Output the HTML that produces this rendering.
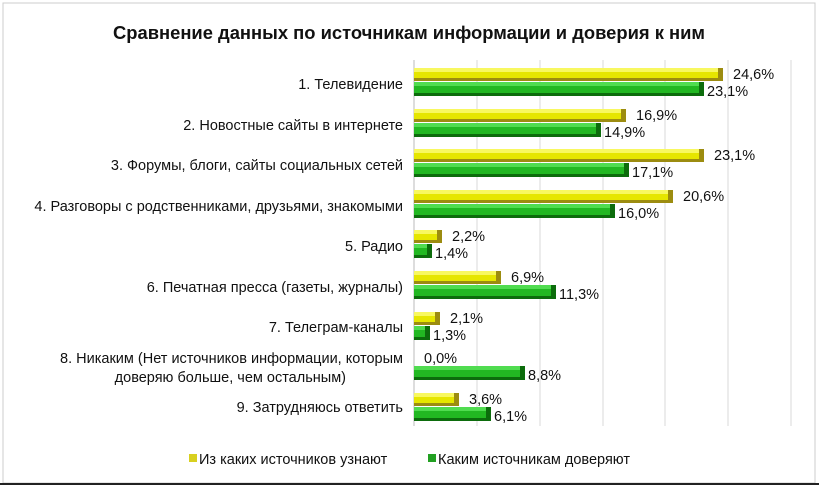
<!DOCTYPE html>
<html><head><meta charset="utf-8"><style>
body{margin:0;background:#fff;width:819px;height:489px;overflow:hidden}
svg text{font-family:"Liberation Sans",sans-serif}
</style></head><body>
<svg width="819" height="489" xmlns="http://www.w3.org/2000/svg">
<rect x="0" y="0" width="819" height="489" fill="#fff"/>
<rect x="3" y="3" width="812" height="480" fill="none" stroke="#ccc"/>
<line x1="0" y1="484" x2="819" y2="484" stroke="#222" stroke-width="2"/>
<text x="409" y="39" font-size="18" font-weight="bold" text-anchor="middle" fill="#111" textLength="592" lengthAdjust="spacingAndGlyphs">Сравнение данных по источникам информации и доверия к ним</text>
<g stroke="#d9d9d9" stroke-width="1">
<line x1="477" y1="60" x2="477" y2="426"/><line x1="540" y1="60" x2="540" y2="426"/>
<line x1="603" y1="60" x2="603" y2="426"/><line x1="665" y1="60" x2="665" y2="426"/>
<line x1="728" y1="60" x2="728" y2="426"/><line x1="791" y1="60" x2="791" y2="426"/>
</g>
<line x1="414" y1="60" x2="414" y2="426" stroke="#bbb"/>

<g>
<rect x="414" y="68" width="309" height="13" fill="#e6e600"/><rect x="414" y="68" width="309" height="4" fill="#f8f860"/><rect x="414" y="78" width="309" height="3" fill="#9c8c10"/><rect x="718" y="68" width="5" height="13" fill="#9c8c10"/>
<rect x="414" y="109" width="212" height="13" fill="#e6e600"/><rect x="414" y="109" width="212" height="4" fill="#f8f860"/><rect x="414" y="119" width="212" height="3" fill="#9c8c10"/><rect x="621" y="109" width="5" height="13" fill="#9c8c10"/>
<rect x="414" y="149" width="290" height="13" fill="#e6e600"/><rect x="414" y="149" width="290" height="4" fill="#f8f860"/><rect x="414" y="159" width="290" height="3" fill="#9c8c10"/><rect x="699" y="149" width="5" height="13" fill="#9c8c10"/>
<rect x="414" y="190" width="259" height="13" fill="#e6e600"/><rect x="414" y="190" width="259" height="4" fill="#f8f860"/><rect x="414" y="200" width="259" height="3" fill="#9c8c10"/><rect x="668" y="190" width="5" height="13" fill="#9c8c10"/>
<rect x="414" y="230" width="28" height="13" fill="#e6e600"/><rect x="414" y="230" width="28" height="4" fill="#f8f860"/><rect x="414" y="240" width="28" height="3" fill="#9c8c10"/><rect x="437" y="230" width="5" height="13" fill="#9c8c10"/>
<rect x="414" y="271" width="87" height="13" fill="#e6e600"/><rect x="414" y="271" width="87" height="4" fill="#f8f860"/><rect x="414" y="281" width="87" height="3" fill="#9c8c10"/><rect x="496" y="271" width="5" height="13" fill="#9c8c10"/>
<rect x="414" y="312" width="26" height="13" fill="#e6e600"/><rect x="414" y="312" width="26" height="4" fill="#f8f860"/><rect x="414" y="322" width="26" height="3" fill="#9c8c10"/><rect x="435" y="312" width="5" height="13" fill="#9c8c10"/>
<rect x="414" y="393" width="45" height="13" fill="#e6e600"/><rect x="414" y="393" width="45" height="4" fill="#f8f860"/><rect x="414" y="403" width="45" height="3" fill="#9c8c10"/><rect x="454" y="393" width="5" height="13" fill="#9c8c10"/>
</g>
<g>
<rect x="414" y="82" width="290" height="14" fill="#22b822"/><rect x="414" y="82" width="290" height="4" fill="#50dc50"/><rect x="414" y="93" width="290" height="3" fill="#0c6c0c"/><rect x="699" y="82" width="5" height="14" fill="#0c6c0c"/>
<rect x="414" y="123" width="187" height="14" fill="#22b822"/><rect x="414" y="123" width="187" height="4" fill="#50dc50"/><rect x="414" y="134" width="187" height="3" fill="#0c6c0c"/><rect x="596" y="123" width="5" height="14" fill="#0c6c0c"/>
<rect x="414" y="163" width="215" height="14" fill="#22b822"/><rect x="414" y="163" width="215" height="4" fill="#50dc50"/><rect x="414" y="174" width="215" height="3" fill="#0c6c0c"/><rect x="624" y="163" width="5" height="14" fill="#0c6c0c"/>
<rect x="414" y="204" width="201" height="14" fill="#22b822"/><rect x="414" y="204" width="201" height="4" fill="#50dc50"/><rect x="414" y="215" width="201" height="3" fill="#0c6c0c"/><rect x="610" y="204" width="5" height="14" fill="#0c6c0c"/>
<rect x="414" y="244" width="18" height="14" fill="#22b822"/><rect x="414" y="244" width="18" height="4" fill="#50dc50"/><rect x="414" y="255" width="18" height="3" fill="#0c6c0c"/><rect x="427" y="244" width="5" height="14" fill="#0c6c0c"/>
<rect x="414" y="285" width="142" height="14" fill="#22b822"/><rect x="414" y="285" width="142" height="4" fill="#50dc50"/><rect x="414" y="296" width="142" height="3" fill="#0c6c0c"/><rect x="551" y="285" width="5" height="14" fill="#0c6c0c"/>
<rect x="414" y="326" width="16" height="14" fill="#22b822"/><rect x="414" y="326" width="16" height="4" fill="#50dc50"/><rect x="414" y="337" width="16" height="3" fill="#0c6c0c"/><rect x="425" y="326" width="5" height="14" fill="#0c6c0c"/>
<rect x="414" y="366" width="111" height="14" fill="#22b822"/><rect x="414" y="366" width="111" height="4" fill="#50dc50"/><rect x="414" y="377" width="111" height="3" fill="#0c6c0c"/><rect x="520" y="366" width="5" height="14" fill="#0c6c0c"/>
<rect x="414" y="407" width="77" height="14" fill="#22b822"/><rect x="414" y="407" width="77" height="4" fill="#50dc50"/><rect x="414" y="418" width="77" height="3" fill="#0c6c0c"/><rect x="486" y="407" width="5" height="14" fill="#0c6c0c"/>
</g>
<g font-size="14.5" fill="#111">
<text x="733" y="79">24,6%</text><text x="707" y="96">23,1%</text>
<text x="636" y="120">16,9%</text><text x="604" y="137">14,9%</text>
<text x="714" y="160">23,1%</text><text x="632" y="177">17,1%</text>
<text x="683" y="201">20,6%</text><text x="618" y="218">16,0%</text>
<text x="452" y="241">2,2%</text><text x="435" y="258">1,4%</text>
<text x="511" y="282">6,9%</text><text x="559" y="299">11,3%</text>
<text x="450" y="323">2,1%</text><text x="433" y="340">1,3%</text>
<text x="424" y="363">0,0%</text><text x="528" y="380">8,8%</text>
<text x="469" y="404">3,6%</text><text x="494" y="421">6,1%</text>
</g>
<g font-size="14.5" fill="#111" text-anchor="end">
<text x="403" y="89">1. Телевидение</text>
<text x="403" y="130">2. Новостные сайты в интернете</text>
<text x="403" y="170">3. Форумы, блоги, сайты социальных сетей</text>
<text x="403" y="211">4. Разговоры с родственниками, друзьями, знакомыми</text>
<text x="403" y="251">5. Радио</text>
<text x="403" y="292">6. Печатная пресса (газеты, журналы)</text>
<text x="403" y="332">7. Телеграм-каналы</text>
<text x="403" y="363">8. Никаким (Нет источников информации, которым</text>
<text x="346" y="382">доверяю больше, чем остальным)</text>
<text x="403" y="412">9. Затрудняюсь ответить</text>
</g>
<g font-size="14.5" fill="#111">
<rect x="189" y="454" width="8" height="8" fill="#d8d020"/>
<text x="199" y="464">Из каких источников узнают</text>
<rect x="428" y="454" width="8" height="8" fill="#22a022"/>
<text x="438" y="464">Каким источникам доверяют</text>
</g>
</svg>
</body></html>
